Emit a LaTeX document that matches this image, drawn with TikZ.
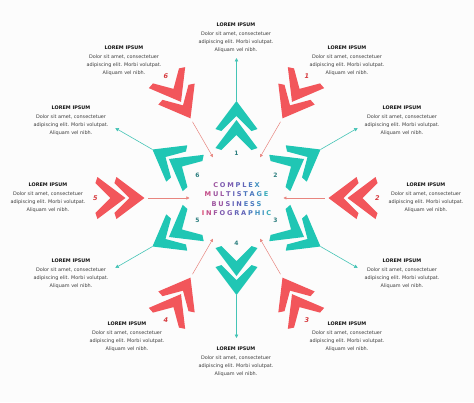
\documentclass[tikz,border=0pt]{standalone}
\usepackage{fontspec}
\setmainfont{DejaVu Sans}
\usetikzlibrary{arrows.meta}
\definecolor{bgc}{HTML}{FCFCFC}
\definecolor{tealc}{HTML}{20C6B4}
\definecolor{teall}{HTML}{45C4B6}
\definecolor{tealn}{HTML}{2D7F80}
\definecolor{redc}{HTML}{F2565B}
\definecolor{redl}{HTML}{E8857F}
\definecolor{redn}{HTML}{D63A3E}
\definecolor{headc}{HTML}{141414}
\definecolor{bodyc}{HTML}{3E3E3E}
\definecolor{g0}{HTML}{D8456E}
\definecolor{g1}{HTML}{C24C88}
\definecolor{g2}{HTML}{9E559F}
\definecolor{g3}{HTML}{7E5BB0}
\definecolor{g4}{HTML}{6264B8}
\definecolor{g5}{HTML}{4C77BE}
\definecolor{g6}{HTML}{3F90C0}
\definecolor{g7}{HTML}{36AAB9}
\newcommand{\gradletter}[2]{\textcolor{#1}{#2}\kern1.8pt}
\newcommand{\lorem}{\textcolor{headc}{\textbf{LOREM IPSUM}}\\Dolor sit amet, consectetuer\\adipiscing elit. Morbi volutpat.\\Aliquam vel nibh.}

\begin{document}
\begin{tikzpicture}[x=1pt, y=1pt,
        dblchev/.pic={\fill[#1] (0,0) -- (-28,21) -- (-30,15) -- (-15,0) -- (-30,-15) -- (-28,-21) -- cycle
            (-19,0) -- (-47,21) -- (-49,15) -- (-34,0) -- (-49,-15) -- (-47,-21) -- cycle;},
        tealline/.style={draw=teall, line width=0.6pt, -{Triangle[length=3.5pt, width=3.5pt]}},
        redline/.style={draw=redl, line width=0.5pt, -{Triangle[length=3pt, width=3pt]}},
        tealnum/.style={text=tealn, font=\fontsize{6}{6}\selectfont\bfseries},
        rednum/.style={text=redn, font=\fontsize{6.5}{6.5}\selectfont\bfseries\itshape},
        blurb/.style={align=center, inner sep=0pt, text=bodyc, font=\fontsize{4.9}{8.3}\selectfont},
        headline/.style={align=center, inner sep=0pt, font=\fontsize{6.6}{9.3}\selectfont\bfseries}]

        % Background
        \fill[bgc] (-236.5,-204) rectangle (237.5,198);

        % Teal chevrons, outward
        \foreach \a/\n in {90/1, 30/2, -30/3, -90/4, -150/5, 150/6} {
            \pic[rotate=\a] at (\a:97) {dblchev=tealc};
            \coordinate (ts\n) at (\a:97);
            \coordinate (te\n) at (\a:140);
            \node[tealnum] (tn\n) at (\a:45) {\n};
            \draw[tealline] (ts\n) -- (te\n);
        }

        % Red chevrons, inward
        \foreach \a/\n in {60/1, 0/2, -60/3, -120/4, 180/5, 120/6} {
            \pic[rotate=\a+180] at (\a:92) {dblchev=redc};
            \coordinate (rs\n) at (\a:88);
            \coordinate (re\n) at (\a:47);
            \node[rednum] (rn\n) at (\a:141) {\n};
            \draw[redline] (rs\n) -- (re\n);
        }

        % Centre title
        \node[headline] (title) at (0.9,-1) {%
            \gradletter{g2}{C}\gradletter{g3}{O}\gradletter{g3}{M}\gradletter{g4}{P}\gradletter{g4}{L}\gradletter{g5}{E}\gradletter{g6}{X}\\
            \gradletter{g1}{M}\gradletter{g2}{U}\gradletter{g2}{L}\gradletter{g3}{T}\gradletter{g4}{I}\gradletter{g4}{S}\gradletter{g5}{T}\gradletter{g5}{A}\gradletter{g6}{G}\gradletter{g7}{E}\\
            \gradletter{g2}{B}\gradletter{g2}{U}\gradletter{g3}{S}\gradletter{g4}{I}\gradletter{g4}{N}\gradletter{g5}{E}\gradletter{g5}{S}\gradletter{g6}{S}\\
            \gradletter{g0}{I}\gradletter{g1}{N}\gradletter{g2}{F}\gradletter{g3}{O}\gradletter{g3}{G}\gradletter{g4}{R}\gradletter{g4}{A}\gradletter{g5}{P}\gradletter{g6}{H}\gradletter{g6}{I}\gradletter{g7}{C}};

        % Text blocks
        \node[blurb] (tb1) at (-0.5,160) {\lorem};
        \node[blurb] (rb1) at (110.5,137) {\lorem};
        \node[blurb] (tb2) at (165.5,77) {\lorem};
        \node[blurb] (rb2) at (189.5,0) {\lorem};
        \node[blurb] (tb3) at (165.5,-76) {\lorem};
        \node[blurb] (rb3) at (110.5,-139) {\lorem};
        \node[blurb] (tb4) at (-0.5,-164) {\lorem};
        \node[blurb] (rb4) at (-109.5,-139) {\lorem};
        \node[blurb] (tb5) at (-165.5,-76) {\lorem};
        \node[blurb] (rb5) at (-188.5,0) {\lorem};
        \node[blurb] (tb6) at (-165.5,77) {\lorem};
        \node[blurb] (rb6) at (-112.5,137) {\lorem};
    \end{tikzpicture}
\end{document}
